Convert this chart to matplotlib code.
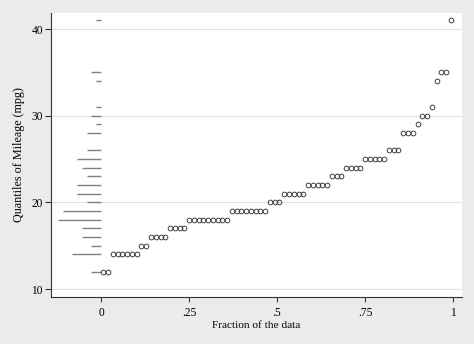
import numpy as np
import matplotlib
matplotlib.use("Agg")
import matplotlib.pyplot as plt

# mileage values and how many cars have each
mpg_values = [12, 14, 15, 16, 17, 18, 19, 20, 21, 22, 23, 24, 25, 26, 28, 29, 30, 31, 34, 35, 41]
mpg_counts = [2, 6, 2, 4, 4, 9, 8, 3, 5, 5, 3, 4, 5, 3, 3, 1, 2, 1, 1, 2, 1]

y_ticks = [10, 20, 30, 40]
x_ticks = [0, 0.25, 0.5, 0.75, 1]
x_ticklabels = ["0", ".25", ".5", ".75", "1"]

mpg_sorted = np.repeat(mpg_values, mpg_counts)
n = len(mpg_sorted)
frac = (np.arange(1, n + 1) - 0.5) / n

plt.rcParams['font.family'] = ['Liberation Serif', 'DejaVu Serif']

fig = plt.figure(figsize=(4.74, 3.44), dpi=100, facecolor='#ebebeb')
ax = fig.add_axes([0.1076, 0.1366, 0.8671, 0.8256])
ax.set_facecolor('white')

# frequency spikes pointing left from 0
ax.hlines(mpg_values, [-c / n for c in mpg_counts], 0, color='#808080', lw=1.0, zorder=2)

# quantile points
ax.plot(frac, mpg_sorted, ls='none', marker='o', ms=3.4, mfc='none',
        mec='#333333', mew=0.65, zorder=3)

ax.set_xlim(-0.142, 1.025)
ax.set_ylim(9.08, 41.85)
ax.set_yticks(y_ticks)
ax.set_xticks(x_ticks)
ax.set_xticklabels(x_ticklabels)
ax.grid(axis='y', color='#e2e2e2', lw=0.8)
ax.set_axisbelow(True)

for s in ['top', 'right']:
    ax.spines[s].set_visible(False)
for s in ['left', 'bottom']:
    ax.spines[s].set_color('#333333')
    ax.spines[s].set_linewidth(0.8)

ax.tick_params(axis='y', direction='out', length=4.3, width=0.8, color='#333333',
               labelsize=8.3, pad=1.5)
ax.tick_params(axis='x', direction='out', length=3.3, width=0.8, color='#333333',
               labelsize=8.3, pad=4)
ax.set_xlabel("Fraction of the data", fontsize=8.2, labelpad=1)
ax.set_ylabel("Quantiles of Mileage (mpg)", fontsize=8.7, labelpad=4.5)

fig.savefig("out.png", dpi=100, facecolor=fig.get_facecolor())
